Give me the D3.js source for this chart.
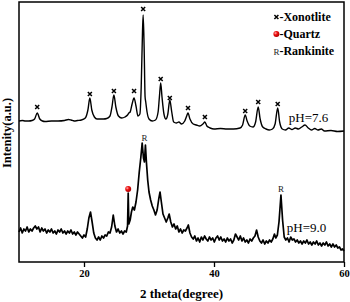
<!DOCTYPE html>
<html lang="en">
<head>
<meta charset="UTF-8">
<title>XRD patterns</title>
<script src="https://d3js.org/d3.v7.min.js"></script>
<style>
  body { margin: 0; background: #fff; }
  svg text { font-family: "Liberation Serif", "DejaVu Serif", serif; }
  .tick-label { font-size: 10.5px; font-weight: bold; }
  .axis-title { font-size: 13px; font-weight: bold; }
  .legend { font-size: 12px; font-weight: bold; }
  .ph { font-size: 13px; }
</style>
</head>
<body>
<svg width="350" height="302"></svg>
<script>
// 2theta ticks
const xTicks = [20, 40, 60];

// pH=7.6 pattern: [2theta, intensity]
const ph76 = [
  [10.0,141],[10.5,141.5],[11.0,141],[11.5,141],[12.0,141.5],[12.4,143],[12.8,149],[13.2,143],
  [13.6,141],[14.0,140.5],[15.0,141],[16.0,141],[17.0,141.5],[17.6,142.5],[18.0,142],[18.5,141],
  [19.0,141.5],[19.6,142],[20.2,144],[20.6,152],[20.9,164],[21.2,152],[21.6,145],[22.0,143],
  [23.0,143],[23.5,143.5],[24.0,146],[24.3,155],[24.6,167],[24.9,155],[25.3,146],[25.8,144],
  [26.3,145],[26.7,147],[26.9,149],[27.1,150],[27.4,158],[27.7,164],[28.0,156],[28.3,146],
  [28.6,148],[28.8,175],[29.0,230],[29.1,247],[29.25,215],[29.4,165],[29.5,160],[29.7,150],
  [30.0,143],[30.5,141],[31.0,142],[31.4,150],[31.6,165],[31.8,179],[32.0,165],[32.3,148],
  [32.6,143],[32.9,148],[33.2,162],[33.5,150],[33.8,140],[34.2,139],[34.6,140],[35.0,138],
  [35.5,141],[35.8,146],[36.0,149],[36.3,143],[36.8,138],[37.3,137],[37.8,136],[38.3,138],
  [38.6,140],[38.9,136],[39.4,134],[40.0,133],[41.0,133.5],[42.0,133],[43.0,133],[44.0,134],
  [44.4,137],[44.8,147],[45.1,141],[45.5,136],[46.0,135],[46.4,140],[46.8,155],[47.1,143],
  [47.5,135],[48.0,133],[48.5,132],[49.0,133],[49.4,138],[49.8,154],[50.1,140],[50.5,133],
  [51.0,132],[51.5,134],[52.0,132.5],[52.5,134],[53.0,133],[53.5,135],[54.0,137],[54.5,134],
  [55.0,132],[55.5,133.5],[56.0,132],[56.5,133],[57.0,131],[58.0,131.5],[59.0,130.5],[60.0,131]
];

// pH=9.0 pattern: [2theta, intensity]
const ph90 = [
  [10.00,30],[10.25,34],[10.50,29],[10.75,33],[11.00,31],[11.25,35],[11.50,30],[11.75,33],
  [12.00,31],[12.25,34],[12.50,36],[12.75,33],[13.00,35],[13.25,30],[13.50,34],[13.75,31],
  [14.00,33],[14.25,29],[14.50,32],[14.75,30],[15.00,33],[15.25,29],[15.50,31],[15.75,28],
  [16.00,32],[16.25,30],[16.50,33],[16.75,29],[17.00,31],[17.25,28],[17.50,31],[17.75,29],
  [18.00,32],[18.25,28],[18.50,30],[18.75,27],[19.00,30],[19.25,28],[19.50,26],[19.75,24],
  [20.00,27],[20.25,25],[20.50,33],[20.75,44],[21.00,50],[21.25,40],[21.50,29],[21.75,24],
  [22.00,22],[22.25,25],[22.50,22],[22.75,26],[23.00,24],[23.25,27],[23.50,26],[23.75,30],
  [24.00,29],[24.25,35],[24.50,47],[24.75,36],[25.00,30],[25.25,33],[25.50,29],[25.75,31],
  [26.00,28],[26.25,31],[26.50,30],[26.70,36],[26.80,69],[26.90,38],[27.10,42],[27.30,50],
  [27.50,55],[27.75,52],[28.00,60],[28.25,72],[28.50,90],[28.75,105],[28.95,119],[29.15,104],
  [29.30,100],[29.45,117],[29.60,100],[29.80,82],[30.00,70],[30.25,62],[30.50,56],[30.75,52],
  [31.00,47],[31.25,52],[31.50,63],[31.70,70],[31.90,60],[32.15,48],[32.40,44],[32.65,40],
  [32.90,44],[33.10,48],[33.35,40],[33.60,35],[33.85,38],[34.10,33],[34.35,36],[34.60,30],
  [34.85,33],[35.10,29],[35.35,32],[35.60,31],[35.85,34],[36.05,37],[36.30,29],[36.55,25],
  [36.80,23],[37.05,26],[37.30,21],[37.55,24],[37.80,20],[38.05,25],[38.30,22],[38.55,26],
  [38.80,23],[39.05,21],[39.30,25],[39.55,22],[39.80,24],[40.05,20],[40.30,24],[40.55,26],
  [40.80,22],[41.05,25],[41.30,21],[41.55,23],[41.80,20],[42.05,24],[42.30,21],[42.55,23],
  [42.80,19],[43.05,22],[43.30,28],[43.55,25],[43.80,22],[44.05,26],[44.30,21],[44.55,24],
  [44.80,20],[45.05,22],[45.30,19],[45.55,23],[45.80,21],[46.05,24],[46.30,26],[46.55,32],
  [46.80,25],[47.05,21],[47.30,19],[47.55,22],[47.80,18],[48.05,21],[48.30,19],[48.55,22],
  [48.80,20],[49.05,23],[49.30,28],[49.50,24],[49.75,27],[50.00,40],[50.30,67],[50.55,42],
  [50.80,25],[51.05,22],[51.30,24],[51.55,20],[51.80,25],[52.05,22],[52.30,23],[52.55,20],
  [52.80,22],[53.05,19],[53.30,21],[53.55,18],[53.80,21],[54.05,19],[54.30,22],[54.55,18],
  [54.80,20],[55.05,17],[55.30,20],[55.55,18],[55.80,21],[56.05,17],[56.30,19],[56.55,16],
  [56.80,19],[57.05,17],[57.30,20],[57.55,16],[57.80,18],[58.05,15],[58.30,18],[58.55,15],
  [58.80,17],[59.05,14],[59.30,15],[59.55,12],[59.80,13],[60.00,11]
];

// phase markers: [2theta, intensity]
const xonotlitePeaks = [
  [12.8,155],[20.9,168],[24.6,171],[27.7,171],[29.1,253],[31.8,183],
  [33.2,164],[36.0,154],[38.6,145],[44.8,151],[46.8,160],[49.8,158]
];
const quartzPeaks = [[26.8,73]];
const rankinitePeaks = [[29.3,121],[50.3,70]];

const legendItems = ["-Xonotlite", "-Quartz", "-Rankinite"];
const sampleLabels = [
  { text: "pH=7.6", at: [51.5, 140] },
  { text: "pH=9.0", at: [51.2, 30] }
];

const margin = { top: 2, right: 6, bottom: 40, left: 19 };
const W = 350, H = 302;
const width = W - margin.left - margin.right;
const height = H - margin.top - margin.bottom;

const svg = d3.select("svg");
const g = svg.append("g").attr("transform", `translate(${margin.left},${margin.top})`);

const x = d3.scaleLinear().domain([10, 60]).range([0, width]);
const y = d3.scaleLinear().domain([0, 260]).range([height, 0]);

// red ball gradient
const grad = svg.append("defs").append("radialGradient")
  .attr("id", "ball").attr("cx", "35%").attr("cy", "35%").attr("r", "65%");
grad.append("stop").attr("offset", "0%").attr("stop-color", "#ffb0b0");
grad.append("stop").attr("offset", "45%").attr("stop-color", "#ee1111");
grad.append("stop").attr("offset", "100%").attr("stop-color", "#b00000");

// curves
g.append("path").datum(ph76)
  .attr("fill", "none").attr("stroke", "#000").attr("stroke-width", 1.4)
  .attr("d", d3.line().x(d => x(d[0])).y(d => y(d[1])).curve(d3.curveMonotoneX));

g.append("path").datum(ph90)
  .attr("fill", "none").attr("stroke", "#000").attr("stroke-width", 1.7)
  .attr("stroke-linejoin", "round")
  .attr("d", d3.line().x(d => x(d[0])).y(d => y(d[1])));

// frame
g.append("rect").attr("width", width).attr("height", height)
  .attr("fill", "none").attr("stroke", "#000").attr("stroke-width", 1.5);

// x axis
const xAxis = g.append("g").attr("transform", `translate(0,${height})`)
  .call(d3.axisBottom(x).tickValues(xTicks).tickSize(5).tickFormat(d3.format("d")));
xAxis.select(".domain").remove();
xAxis.selectAll("line").attr("stroke-width", 1.3);
xAxis.selectAll("text").attr("class", "tick-label").attr("dy", "0.85em").attr("y", 6)
  .style("font-family", "'Liberation Serif', serif").style("font-size", "10.5px").style("font-weight", "bold");

g.append("text").attr("class", "axis-title")
  .attr("x", width / 2).attr("y", height + 36).attr("text-anchor", "middle")
  .text("2 theta(degree)");

g.append("text").attr("class", "axis-title")
  .attr("transform", "rotate(-90)")
  .attr("x", -133 + margin.top).attr("y", -8).attr("text-anchor", "middle")
  .style("font-size", "12.5px")
  .text("Intenity(a.u.)");

// xonotlite crosses
const cross = "M-2,-2L2,2M-2,2L2,-2";
g.selectAll(".xono").data(xonotlitePeaks).enter().append("path")
  .attr("class", "xono")
  .attr("transform", d => `translate(${x(d[0])},${y(d[1])})`)
  .attr("d", cross).attr("stroke", "#000").attr("stroke-width", 1.5);

g.selectAll(".quartz").data(quartzPeaks).enter().append("circle")
  .attr("cx", d => x(d[0])).attr("cy", d => y(d[1])).attr("r", 3)
  .attr("fill", "url(#ball)");

g.selectAll(".rank").data(rankinitePeaks).enter().append("text")
  .attr("x", d => x(d[0])).attr("y", d => y(d[1])).attr("text-anchor", "middle")
  .style("font-size", "9px").attr("fill", "#222").text("R");

// sample labels
g.selectAll(".ph").data(sampleLabels).enter().append("text")
  .attr("class", "ph")
  .attr("x", d => x(d.at[0])).attr("y", d => y(d.at[1]))
  .text(d => d.text);

// legend
const lg = g.append("g").attr("transform", `translate(${x(49.6)},0)`);
legendItems.forEach((t, i) => {
  const row = lg.append("g").attr("transform", `translate(0,${19 + i * 17})`);
  row.append("text").attr("class", "legend").attr("x", 3).attr("y", 0).text(t);
  if (i === 0) {
    row.append("path").attr("d", cross).attr("transform", "translate(0,-4)")
      .attr("stroke", "#000").attr("stroke-width", 1.5);
  } else if (i === 1) {
    row.append("circle").attr("cx", 0).attr("cy", -4).attr("r", 3).attr("fill", "url(#ball)");
  } else {
    row.append("text").attr("x", 0).attr("y", 0).attr("text-anchor", "middle")
      .style("font-size", "9px").attr("fill", "#222").text("R");
  }
});
</script>
</body>
</html>
